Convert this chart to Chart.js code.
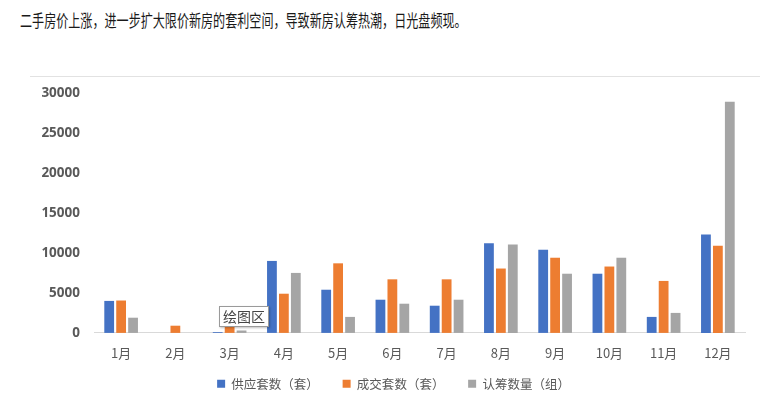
<!DOCTYPE html>
<html>
<head>
<meta charset="utf-8">
<script src="https://cdn.jsdelivr.net/npm/chart.js@4"></script>
<style>
    body{ margin:0; background:#fff; width:775px; height:409px; overflow:hidden; position:relative; }
    #title{
        position:absolute; left:20px; top:9px;
        font-family:"Noto Sans CJK SC", sans-serif; font-size:17px; line-height:22px; color:#1a1a1a;
        white-space:nowrap; transform:scaleX(0.71); transform-origin:left top;
    }
    #topline{ position:absolute; left:30px; top:76px; width:730px; height:1px; background:#e2e2e2; }
    #wrap{ position:absolute; left:0; top:77px; width:775px; height:332px; }
    #tip{
        position:absolute; left:219px; top:306px; width:48px; height:19px;
        border:1px solid #9a9a9a; background:#fff; box-shadow:1px 1px 2px rgba(0,0,0,0.25);
        font-family:"Noto Sans CJK SC", sans-serif; font-size:14px; line-height:19px; color:#444; text-align:center;
    }
</style>
</head>
<body>
<div id="title">二手房价上涨，进一步扩大限价新房的套利空间，导致新房认筹热潮，日光盘频现。</div>
<div id="topline"></div>
<div id="wrap"><canvas id="graph0"></canvas></div>
<div id="tip">绘图区</div>
<script>
// 月份
var months      = ["1月","2月","3月","4月","5月","6月","7月","8月","9月","10月","11月","12月"];
// 供应套数（套）
var supply      = [4000, 0, 100, 9000, 5400, 4150, 3400, 11200, 10400, 7400, 2000, 12300];
// 成交套数（套）
var deal        = [4050, 900, 900, 4900, 8700, 6700, 6700, 8050, 9400, 8300, 6500, 10900];
// 认筹数量（组）
var subscribe   = [1900, 0, 300, 7500, 2000, 3650, 4150, 11050, 7400, 9400, 2500, 28900];

var y_ticks     = [0, 5000, 10000, 15000, 20000, 25000, 30000];

var CHART0 = null;

//凡例を少し右へずらす
var legend_shift = {
    id: "legend_shift",
    afterLayout: function(chart){
        chart.legend.left  += 21;
        chart.legend.right += 21;
    }
};

window.addEventListener("load", function(){

    let ctx0 = document.getElementById("graph0");

    CHART0 = new Chart(ctx0, {
        type: "bar",
        data: {
            labels: months,
            datasets: [
                { label: "供应套数（套）　　", data: supply,    backgroundColor: "#4472C4" },
                { label: "成交套数（套）　　", data: deal,      backgroundColor: "#ED7D31" },
                { label: "认筹数量（组）",     data: subscribe, backgroundColor: "#A5A5A5" },
            ],
        },
        options: {
            responsive: true,
            maintainAspectRatio: false,
            animation: false,
            categoryPercentage: 0.66,
            barPercentage: 0.82,
            layout: { padding: { left: 0, right: 30, top: 16, bottom: 9 } },
            plugins: {
                tooltip: { enabled: false },
                legend: {
                    position: "bottom",
                    labels: {
                        boxWidth: 8, boxHeight: 8, padding: 5,
                        color: "#595959",
                        font: { family: "'Noto Sans CJK SC'", size: 12.5 },
                    },
                },
            },
            scales: {
                x: {
                    grid: { display: false, drawTicks: false },
                    border: { color: "#d9d9d9", width: 1 },
                    ticks: {
                        color: "#595959", padding: 12,
                        font: { family: "'Noto Sans CJK SC'", size: 13 },
                    },
                },
                y: {
                    min: 0, max: 30000,
                    afterFit: function(scale){
                        scale.width = 94;
                        scale.paddingTop = 0;
                        scale.paddingBottom = 0;
                    },
                    afterBuildTicks: function(scale){
                        scale.ticks = y_ticks.map(function(v){ return { value: v }; });
                    },
                    grid: { display: false, drawTicks: false },
                    border: { display: false },
                    ticks: {
                        color: "#595959", padding: 14,
                        font: { family: "'Open Sans'", size: 13.5, weight: "bold" },
                        callback: function(v){ return String(v); },
                    },
                },
            },
        },
        plugins: [legend_shift],
    });
});
</script>
</body>
</html>
